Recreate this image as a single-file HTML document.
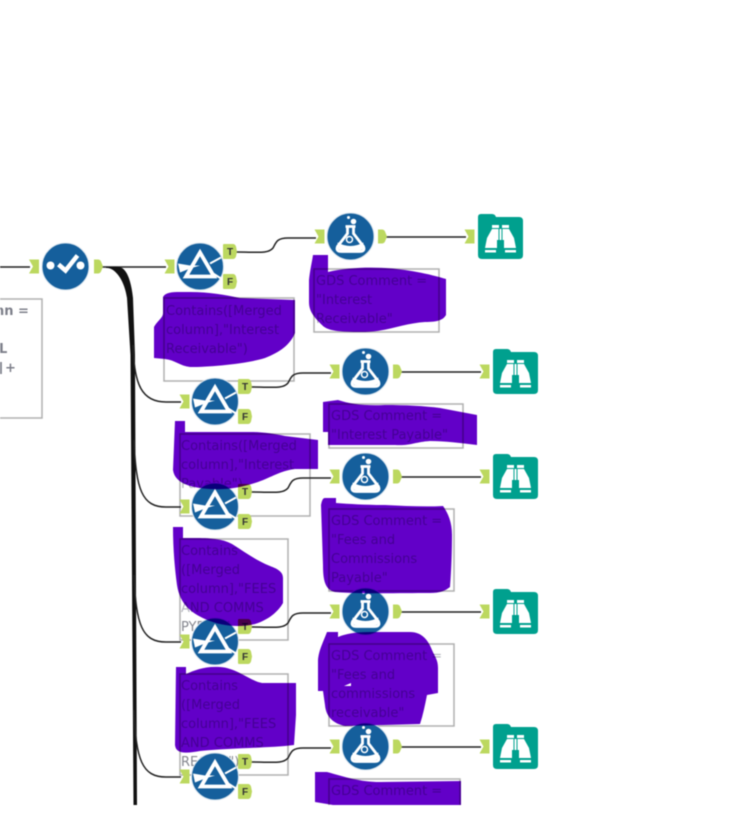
<!DOCTYPE html>
<html><head><meta charset="utf-8"><style>
html,body{margin:0;padding:0;background:#fff;width:736px;height:815px;overflow:hidden}
svg{display:block;filter:blur(.5px)}
text.n{font-family:"DejaVu Sans","Liberation Sans",sans-serif;font-size:13px;fill:#b4b6be}
text.o{font-family:"DejaVu Sans","Liberation Sans",sans-serif;font-size:13px;fill:#85878f}
text.d{font-family:"DejaVu Sans","Liberation Sans",sans-serif;font-size:13px;fill:#7d7f8a;font-weight:bold}
text.a{font-family:"Liberation Sans",sans-serif;font-size:10px;font-weight:bold;fill:#333}
.b{fill:none;stroke:#b0b0b0;stroke-width:1.5}
.w{fill:none;stroke:#222;stroke-width:1.5}
.p{fill:#6200c8;mix-blend-mode:multiply}
</style></head><body>
<svg width="736" height="815" viewBox="0 0 736 815" xmlns="http://www.w3.org/2000/svg">
<defs>
<g id="in"><path d="M-5 -7H5V7H-5L-1 0Z" fill="#bcd85f"/></g>
<g id="out"><path d="M-4 -7H0Q2 -7 3 -5L5 0L3 5Q2 7 0 7H-4Z" fill="#bcd85f"/></g>
<path id="tf" d="M-6 -7.500H3Q5 -7.500 6 -5L7 0L6 5Q5 7.500 3 7.500H-6Q-7 7.500 -7 6.500V-6.500Q-7 -7.500 -6 -7.500Z" fill="#bcd85f"/>
<g id="filter"><circle r="23.5" fill="#155f9c" stroke="#dce6ef" stroke-width="1"/>
<path d="M0 -14L14 10H-14Z" fill="none" stroke="#fff" stroke-width="3.800"/>
<path d="M-22 -3L-10 -1L0 -1L-10 2L-20 6Z" fill="#fff"/>
<path d="M10 -3L21 -9M10 5L21 12" stroke="#fff" stroke-width="2" fill="none"/></g>
<g id="check"><circle r="23.5" fill="#155f9c" stroke="#dce6ef" stroke-width="1"/>
<circle cx="-15" cy="-1" r="4" fill="#fff"/><circle cx="15" cy="-1" r="4" fill="#fff"/>
<path d="M-7 -2L0 4L12 -11" fill="none" stroke="#fff" stroke-width="4.5"/></g>
<g id="flask"><circle r="23.5" fill="#155f9c" stroke="#dce6ef" stroke-width="1"/>
<circle cx="-2" cy="-19" r="1.5" fill="#fff"/><circle cx="3" cy="-15" r="2.8" fill="#fff"/>
<path d="M-5 -10H5M-3 -10V-3L-13 10Q-15 15 -9 15H9Q15 15 13 10L3 -3V-10" fill="none" stroke="#fff" stroke-width="2.800"/>
<path d="M-13 6Q0 13 13 6L12 13Q0 17 -12 13Z" fill="#fff"/>
<circle cx="-1" cy="3" r="3" fill="none" stroke="#fff" stroke-width="1.5"/><circle cx="4" cy="6" r="1.5" fill="#155f9c"/></g>
<g id="bino"><path d="M3 0H14Q17 0 18 3H41Q45 3 45 7V41Q45 45 41 45H4Q0 45 0 41V3Q0 0 3 0Z" fill="#00a08e"/>
<path d="M14 11H21V14H14ZM24 11H31V14H24Z" fill="#fff"/>
<path d="M14 15H20.500V34H7L9 24ZM24.500 15H31L36 24L38 34H24.500Z" fill="#fff"/>
<rect x="21.500" y="15" width="2" height="12" fill="#fff"/>
<rect x="19" y="26" width="7" height="13" fill="#00a08e"/>
<rect x="7" y="36" width="11" height="2.500" fill="#fff"/><rect x="27" y="36" width="11" height="2.500" fill="#fff"/></g>
</defs>

<!-- annotation boxes -->
<rect class="b" x="-5" y="299" width="47" height="119"/>
<rect class="b" x="164" y="298" width="130" height="83"/>
<rect class="b" x="180" y="434" width="130" height="82"/>
<rect class="b" x="180" y="539" width="108" height="101"/>
<rect class="b" x="180" y="674" width="108" height="101"/>
<rect class="b" x="314" y="269" width="125" height="63"/>
<rect class="b" x="329" y="404" width="134" height="44"/>
<rect class="b" x="329" y="509" width="125" height="82"/>
<rect class="b" x="329" y="644" width="125" height="82"/>
<path class="b" d="M329 805V779H460V805"/>

<!-- annotation text -->
<text class="d" x="-5" y="315">nn =</text>
<text class="d" x="-1" y="353">L</text>
<text class="d" x="-3" y="372">]</text>
<text class="d" x="5" y="372" font-weight="normal">+</text>
<text class="n" x="166" y="315">Contains([Merged</text>
<text class="n" x="166" y="334">column],"Interest</text>
<text class="n" x="166" y="353">Receivable")</text>
<text class="n" x="181" y="450">Contains([Merged</text>
<text class="n" x="181" y="469">column],"Interest</text>
<text class="n" x="181" y="488">Payable")</text>
<text class="n" x="181" y="555">Contains</text>
<text class="n" x="181" y="574">([Merged</text>
<text class="n" x="181" y="593">column],"FEES</text>
<text class="n" x="181" y="612">AND COMMS</text>
<text class="o" x="181" y="631">PYBLE")</text>
<text class="n" x="181" y="690">Contains</text>
<text class="n" x="181" y="709">([Merged</text>
<text class="n" x="181" y="728">column],"FEES</text>
<text class="n" x="181" y="747">AND COMMS</text>
<text class="o" x="181" y="766">RECEIV")</text>
<text class="n" x="316" y="285">GDS Comment =</text>
<text class="n" x="316" y="304">"Interest</text>
<text class="n" x="316" y="323">Receivable"</text>
<text class="n" x="331" y="420">GDS Comment =</text>
<text class="n" x="331" y="439">"Interest Payable"</text>
<text class="n" x="331" y="525">GDS Comment =</text>
<text class="n" x="331" y="544">"Fees and</text>
<text class="n" x="331" y="563">Commissions</text>
<text class="n" x="331" y="582">Payable"</text>
<text class="n" x="331" y="660">GDS Comment =</text>
<text class="n" x="331" y="679">"Fees and</text>
<text class="n" x="331" y="698">commissions</text>
<text class="n" x="331" y="717">receivable"</text>
<text class="n" x="331" y="795">GDS Comment =</text>

<!-- connectors -->
<path class="w" d="M0 267H30M102 267H166"/>
<path d="M106 266.500C112 266.500 118 266 122 268C127 271 131 280 133 298L135 355L137 805H133.500L130.500 355L127 298C125 285 120 275 113 270C110 268 108 268 106 268Z" fill="#111"/>
<path class="w" d="M133 345C134 385 142 402 166 402H181"/>
<path class="w" d="M134 440C136 490 142 507 166 507H181"/>
<path class="w" d="M134 575C136 625 142 642 166 642H181"/>
<path class="w" d="M134 710C136 760 142 777 166 777H181"/>
<path class="w" d="M236 252C258 252 268 254 273 248C276 243 276 238 288 238H316"/>
<path class="w" d="M251 387C273 387 283 389 288 383C291 378 291 373 303 373H331"/>
<path class="w" d="M251 492C273 492 283 494 288 488C291 483 291 478 303 478H331"/>
<path class="w" d="M251 627C273 627 283 629 288 623C291 618 291 613 303 613H331"/>
<path class="w" d="M251 762C273 762 283 764 288 758C291 753 291 748 303 748H331"/>
<path class="w" d="M386 237H466"/>
<path class="w" d="M401 372H481"/><path class="w" d="M401 477H481"/><path class="w" d="M401 612H481"/><path class="w" d="M401 747H481"/>

<!-- nodes -->
<use href="#in" x="34" y="266.500"/><use href="#check" x="65.500" y="266.500"/><use href="#out" x="98" y="266.500"/>

<use href="#in" x="169.500" y="266.500"/><use href="#filter" x="200" y="266.500"/>
<use href="#tf" x="230" y="251.500"/><text class="a" x="230" y="255" text-anchor="middle">T</text>
<use href="#tf" x="230" y="281.500"/><text class="a" x="230" y="285" text-anchor="middle">F</text>

<use href="#in" x="184.500" y="401.500"/><use href="#filter" x="215" y="401.500"/>
<use href="#tf" x="245" y="386.500"/><text class="a" x="245" y="390" text-anchor="middle">T</text>
<use href="#tf" x="245" y="416.500"/><text class="a" x="245" y="420" text-anchor="middle">F</text>

<use href="#in" x="184.500" y="506.500"/><use href="#filter" x="215" y="506.500"/>
<use href="#tf" x="245" y="491.500"/><text class="a" x="245" y="495" text-anchor="middle">T</text>
<use href="#tf" x="245" y="521.500"/><text class="a" x="245" y="525" text-anchor="middle">F</text>

<use href="#in" x="184.500" y="641.500"/><use href="#filter" x="215" y="641.500"/>
<use href="#tf" x="245" y="626.500"/><text class="a" x="245" y="630" text-anchor="middle">T</text>
<use href="#tf" x="245" y="656.500"/><text class="a" x="245" y="660" text-anchor="middle">F</text>

<use href="#in" x="184.500" y="776.500"/><use href="#filter" x="215" y="776.500"/>
<use href="#tf" x="245" y="761.500"/><text class="a" x="245" y="765" text-anchor="middle">T</text>
<use href="#tf" x="245" y="791.500"/><text class="a" x="245" y="795" text-anchor="middle">F</text>

<use href="#in" x="319.500" y="236.500"/><use href="#flask" x="350.500" y="236.500"/><use href="#out" x="382" y="236.500"/>
<use href="#in" x="469.500" y="236.500"/><use href="#bino" x="478" y="214"/>

<use href="#in" x="334.500" y="371.500"/><use href="#flask" x="365.500" y="371.500"/><use href="#out" x="397" y="371.500"/>
<use href="#in" x="484.500" y="371.500"/><use href="#bino" x="493" y="349"/>

<use href="#in" x="334.500" y="476.500"/><use href="#flask" x="365.500" y="476.500"/><use href="#out" x="397" y="476.500"/>
<use href="#in" x="484.500" y="476.500"/><use href="#bino" x="493" y="454"/>

<use href="#in" x="334.500" y="611.500"/><use href="#flask" x="365.500" y="611.500"/><use href="#out" x="397" y="611.500"/>
<use href="#in" x="484.500" y="611.500"/><use href="#bino" x="493" y="589"/>

<use href="#in" x="334.500" y="746.500"/><use href="#flask" x="365.500" y="746.500"/><use href="#out" x="397" y="746.500"/>
<use href="#in" x="484.500" y="746.500"/><use href="#bino" x="493" y="724"/>

<!-- purple scribbles -->
<path class="p" d="M163 297C166 291 176 292 190 292C210 292 225 295 240 298L295 300V333C290 345 280 352 265 358C245 364 210 367 190 367C180 366 175 360 165 359L154 358V327C158 320 163 318 163 313Z"/>
<path class="p" d="M175 421H185V432H250C265 432 275 434 285 436L318 440V469L295 469C280 471 272 477 258 482C240 488 225 490 210 489C195 488 175 485 173 470Z"/>
<path class="p" d="M173 527H183V538C200 538 220 537 232 544C245 552 255 560 270 566C278 569 283 572 283 578V603C278 612 268 620 255 624C240 628 220 626 205 619C192 613 180 605 177 585C175 570 173 550 173 527Z"/>
<path class="p" d="M176 667H186V674C195 670 205 666 220 667C235 668 245 677 258 682L262 683H296V715L294 745C270 748 230 748 200 751C188 753 176 755 175 745Z"/>
<path class="p" d="M313 255H328V272C345 268 365 267 385 268C405 269 430 274 446 279V315C443 320 438 322 425 322C405 323 385 332 365 332C345 332 328 332 322 325C315 318 309 312 309 302V280C310 270 312 262 313 255Z"/>
<path class="p" d="M323 402L338 400C350 404 365 406 385 405C405 405 425 406 440 408L477 415V445C460 443 445 441 430 441C415 442 410 446 395 445H328V432H323Z"/>
<path class="p" d="M321 505C322 500 323 498 325 498H336V503C350 504 365 505 385 505C405 506 425 507 443 506C448 513 452 522 452 535C452 555 451 575 450 587C445 591 440 593 430 593C400 593 360 594 335 592C325 590 323 580 323 565Z"/>
<path class="p" d="M327 632H338V637C345 634 355 632 370 632H410C422 632 428 640 432 650C435 657 438 660 438 668V693L427 695C425 705 423 715 420 724L345 726C335 724 326 718 325 705L323 691H318V660C319 650 322 645 327 632Z"/>
<path d="M344 686L351 683V686Z" fill="#fff"/>
<path class="p" d="M315 772H327C345 777 360 782 380 782L461 781V805H333L315 802Z"/>

<rect x="0" y="805" width="736" height="10" fill="#fff"/>
</svg>
</body></html>
